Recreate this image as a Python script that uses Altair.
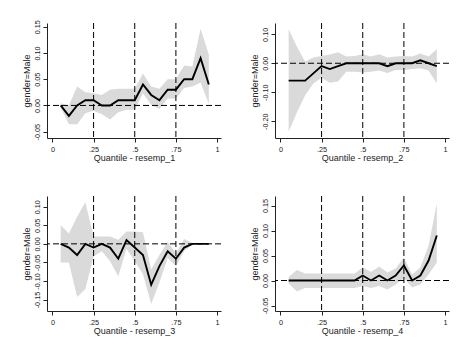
import altair as alt
import pandas as pd

quantiles = [0.05, 0.10, 0.15, 0.20, 0.25, 0.30, 0.35, 0.40, 0.45, 0.50,
             0.55, 0.60, 0.65, 0.70, 0.75, 0.80, 0.85, 0.90, 0.95]

# resemp_1
coef_1 = [0.00, -0.02, 0.00, 0.01, 0.01, 0.00, 0.00, 0.01, 0.01, 0.01,
          0.04, 0.02, 0.01, 0.03, 0.03, 0.05, 0.05, 0.09, 0.04]
lo_1 = [-0.004, -0.036, -0.036, -0.015, -0.010, -0.017, -0.027, -0.013, -0.008, -0.008,
        0.023, 0.001, -0.007, 0.013, 0.013, 0.033, 0.036, 0.043, 0.003]
hi_1 = [0.004, 0.000, 0.036, 0.025, 0.023, 0.020, 0.030, 0.032, 0.032, 0.032,
        0.061, 0.036, 0.032, 0.050, 0.050, 0.076, 0.074, 0.146, 0.097]

# resemp_2
coef_2 = [-0.06, -0.06, -0.06, -0.035, -0.01, -0.02, -0.01, 0.00, 0.00, 0.00,
          0.00, 0.00, -0.01, 0.00, 0.00, 0.00, 0.01, 0.00, -0.01]
lo_2 = [-0.236, -0.170, -0.110, -0.070, -0.050, -0.067, -0.063, -0.029, -0.029, -0.032,
        -0.029, -0.025, -0.034, -0.023, -0.023, -0.020, -0.017, -0.025, -0.070]
hi_2 = [0.117, 0.057, 0.006, 0.020, 0.025, 0.030, 0.038, 0.023, 0.025, 0.031,
        0.023, 0.031, 0.020, 0.023, 0.025, 0.023, 0.034, 0.023, 0.048]

# resemp_3
coef_3 = [0.00, -0.01, -0.03, 0.00, -0.01, 0.00, -0.01, -0.04, 0.01, -0.01,
          -0.03, -0.11, -0.06, -0.02, -0.04, -0.01, 0.00, 0.00, 0.00]
lo_3 = [-0.050, -0.050, -0.143, -0.122, -0.034, -0.020, -0.047, -0.087, -0.013, -0.047,
        -0.082, -0.162, -0.104, -0.038, -0.060, -0.020, -0.002, 0.000, 0.000]
hi_3 = [0.050, 0.028, 0.073, 0.112, 0.020, 0.020, 0.020, 0.011, 0.033, 0.033,
        0.031, -0.069, -0.030, 0.006, -0.025, 0.013, 0.002, 0.000, 0.000]

# resemp_4
coef_4 = [0.00, 0.00, 0.00, 0.00, 0.00, 0.00, 0.00, 0.00, 0.00, 0.01,
          0.00, 0.01, 0.00, 0.01, 0.03, 0.00, 0.01, 0.04, 0.09]
lo_4 = [-0.006, -0.022, -0.015, -0.015, -0.015, -0.015, -0.015, -0.015, -0.015, -0.011,
        -0.015, -0.011, -0.018, -0.008, 0.005, -0.014, -0.008, 0.012, 0.036]
hi_4 = [0.007, 0.021, 0.014, 0.014, 0.014, 0.014, 0.014, 0.014, 0.014, 0.026,
        0.017, 0.028, 0.016, 0.024, 0.046, 0.012, 0.026, 0.070, 0.154]

x_ticks = [0, 0.25, 0.5, 0.75, 1]
vlines = [0.25, 0.5, 0.75]
zero_line = [0]

y_domains = [[-0.062, 0.157], [-0.258, 0.139], [-0.181, 0.129], [-0.061, 0.169]]
y_ticks = [
    [-0.05, 0.0, 0.05, 0.10, 0.15],
    [-0.20, -0.10, 0.0, 0.10],
    [-0.15, -0.10, -0.05, 0.0, 0.05, 0.10],
    [-0.05, 0.0, 0.05, 0.10, 0.15],
]
x_titles = ["Quantile - resemp_1", "Quantile - resemp_2", "Quantile - resemp_3", "Quantile - resemp_4"]

W, H = 174, 115


def panel(coef, lo, hi, ydom, yt, xtitle):
    df = pd.DataFrame({"q": quantiles, "b": coef, "lo": lo, "hi": hi})
    vdf = pd.DataFrame({"v": vlines})
    zdf = pd.DataFrame({"z": zero_line})
    xscale = alt.Scale(domain=[-0.033, 1.024], nice=False, zero=False)
    yscale = alt.Scale(domain=ydom, nice=False, zero=False)
    xaxis = alt.Axis(
        values=x_ticks,
        labelExpr="datum.value == 0 ? '0' : datum.value == 1 ? '1' : replace(format(datum.value, '.2~f'), '0.', '.')",
        title=xtitle, grid=False, tickSize=4, labelPadding=3, titlePadding=1,
    )
    yaxis = alt.Axis(
        values=yt,
        labelExpr="replace(format(datum.value, '.2f'), '\u2212', '-')",
        title="gender=Male", grid=False, tickSize=4, labelPadding=2, titlePadding=2,
        labelAngle=270, labelAlign="center", labelBaseline="bottom",
    )
    band = alt.Chart(df).mark_area(color="#dadada", opacity=1).encode(
        x=alt.X("q:Q", scale=xscale, axis=xaxis),
        y=alt.Y("lo:Q", scale=yscale, axis=yaxis),
        y2="hi:Q",
    )
    vr = alt.Chart(vdf).mark_rule(color="black", strokeWidth=1, strokeDash=[6, 3]).encode(
        x=alt.X("v:Q", scale=xscale, axis=xaxis)
    )
    hr = alt.Chart(zdf).mark_rule(color="black", strokeWidth=1, strokeDash=[6, 3]).encode(
        y=alt.Y("z:Q", scale=yscale, axis=yaxis)
    )
    line = alt.Chart(df).mark_line(color="black", strokeWidth=1.9).encode(
        x=alt.X("q:Q", scale=xscale, axis=xaxis),
        y=alt.Y("b:Q", scale=yscale, axis=yaxis),
    )
    return alt.layer(band, vr, hr, line).properties(width=W, height=H)


panels = [panel(c, l, h, d, t, xt) for c, l, h, d, t, xt in zip(
    [coef_1, coef_2, coef_3, coef_4], [lo_1, lo_2, lo_3, lo_4], [hi_1, hi_2, hi_3, hi_4],
    y_domains, y_ticks, x_titles)]

chart = alt.concat(*panels, columns=2, spacing={"row": 58, "column": 54}).properties(
    bounds="flush",
    padding={"left": 13, "top": 11, "right": 10, "bottom": 10},
    background="white",
).configure_view(stroke="transparent").configure_axis(
    domainColor="#222222", tickColor="#222222", labelColor="#222222", titleColor="#222222",
    labelFont="Liberation Sans", titleFont="Liberation Sans",
    labelFontSize=7.3, titleFontSize=9, titleFontWeight="normal",
    domainWidth=1, tickWidth=1,
)

chart.save("out.html", embed_options={"renderer": "svg", "actions": False})
